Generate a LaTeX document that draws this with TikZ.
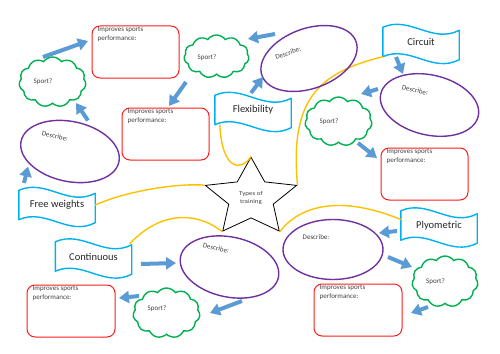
\documentclass[tikz,border=0pt]{standalone}
\usepackage{fontspec}
\setmainfont{Carlito}
\usetikzlibrary{arrows.meta,calc,shapes.geometric,shapes.symbols}

\definecolor{flagblue}{HTML}{00B0F0}
\definecolor{ovalpurple}{HTML}{7030A0}
\definecolor{puffgreen}{HTML}{00B050}
\definecolor{boxred}{HTML}{FF1A1A}
\definecolor{arrowblue}{HTML}{5B9BD5}
\definecolor{linkyellow}{HTML}{FFC000}
\definecolor{inkgrey}{HTML}{404040}

\newcommand{\smallfont}{\fontsize{7}{9}\selectfont}
% wavy outline round a banner node
\newcommand{\waveflag}[1]{%
  \draw[flagline] (#1.north west) .. controls +(27,-12) and +(-27,14) .. ([yshift=-3pt]#1.north east)
    -- ([yshift=-3pt]#1.south east) .. controls +(-27,14) and +(27,-12) .. (#1.south west) -- cycle;}

\tikzset{
  flagtext/.style={minimum width=76pt, minimum height=29pt, inner sep=0pt,
    font=\fontsize{10.5}{12}\selectfont, text=black!85},
  flagline/.style={draw=flagblue, line width=1.4pt, line join=round},
  oval/.style={ellipse, draw=ovalpurple, line width=1.4pt, minimum width=100pt,
    minimum height=60pt, inner sep=0pt},
  ovaltext/.style={font=\smallfont, text=inkgrey, inner sep=0pt},
  sportcloud/.style={cloud, cloud puffs=11, cloud puff arc=110, cloud ignores aspect,
    draw=puffgreen, line width=1.4pt, minimum width=67pt, minimum height=50pt, inner sep=0pt,
    label={[font=\smallfont, text=inkgrey, xshift=-9.5pt, yshift=#1]center:Sport?}},
  sportcloud/.default=0pt,
  perfbox/.style={draw=boxred, line width=1pt, rounded corners=8pt, minimum width=87pt,
    minimum height=52pt, inner sep=0pt,
    label={[anchor=north west, align=left, font=\smallfont, text=inkgrey, inner sep=0pt,
      xshift=6pt, yshift=-1.5pt]north west:{Improves sports\\performance:}}},
  link/.style={draw=linkyellow, line width=1.4pt},
  flow/.style={draw=arrowblue, line width=4pt, -{Triangle[length=10pt,width=12pt]}},
}

\begin{document}
\begin{tikzpicture}[x=1pt,y=-1pt]
  \useasboundingbox (0,0) rectangle (500,353);

  % centre star
  \node[draw, star, star points=5, star point ratio=2.05, minimum size=96pt, inner sep=0pt,
    line width=0.8pt, yscale=0.85, transform shape, align=center, font=\smallfont,
    text=inkgrey] (types) at (251,198) {Types of\\training};

  % banners
  \node[flagtext] (flex) at (253,110) {Flexibility};
  \node[flagtext] (circuit) at (421,42) {Circuit};
  \node[flagtext] (freew) at (57,205) {Free weights};
  \node[flagtext] (cont) at (93.5,256.5) {Continuous};
  \node[flagtext] (plyo) at (439,225.5) {Plyometric};
  \waveflag{flex}
  \waveflag{circuit}
  \waveflag{freew}
  \waveflag{cont}
  \waveflag{plyo}

  % star to banners
  \draw[link] (types.outer point 1) .. controls +(-10,16) and +(2,45) .. ([xshift=5pt]flex.south west);
  \draw[link] (types.outer point 5) .. controls +(-8,-85) and +(-65,16) .. (circuit.south west);
  \draw[link] (types.outer point 2) .. controls +(-25,-2) and +(34,-15) .. (freew.east);
  \draw[link] (types.outer point 3) .. controls +(-27,-21) and +(30,-32) .. ([xshift=-2pt,yshift=-2pt]cont.north east);
  \draw[link] (types.outer point 4) .. controls +(20,-26) and +(-61,-25) .. ([yshift=6pt]plyo.west);

  % describe ovals
  \node[oval, rotate=-12] (e1) at (70,151.5) {};
  \node[oval, rotate=20] (e2) at (309,58.5) {};
  \node[oval, rotate=-13] (e3) at (429.5,105) {};
  \node[oval, rotate=-12] (e4) at (229.5,267) {};
  \node[oval] (e5) at (333,249.5) {};
  \node[ovaltext, rotate=-12] (e1text) at (55,136) {Describe:};
  \node[ovaltext, rotate=20] (e2text) at (288,53) {Describe:};
  \node[ovaltext, rotate=-13] (e3text) at (415,90) {Describe:};
  \node[ovaltext, rotate=-12] (e4text) at (216,248) {Describe:};
  \node[ovaltext] (e5text) at (316,237) {Describe:};

  % sport clouds
  \node[sportcloud] (cloud1) at (52.5,82) {};
  \node[sportcloud=-1.5pt, minimum width=65pt, minimum height=43pt] (cloud2) at (216.5,56.5) {};
  \node[sportcloud, minimum height=49pt] (cloud3) at (338.5,121.5) {};
  \node[sportcloud=4pt] (cloud4) at (166.5,313) {};
  \node[sportcloud, minimum width=66pt, minimum height=51pt] (cloud5) at (445,281.5) {};

  % performance boxes
  \node[perfbox] (red1) at (135.5,52) {};
  \node[perfbox] (red2) at (165.5,134) {};
  \node[perfbox] (red3) at (424.5,174) {};
  \node[perfbox, minimum width=88pt] (red4) at (71,311) {};
  \node[perfbox, minimum width=88pt] (red5) at (358,310) {};

  % blue arrows
  \draw[flow] ($(cloud1)+(-9.5,-25)$) -- ($(red1)+(-47.5,-11)$);
  \draw[flow] ($(e1)+(18,-31)$) -- ($(cloud1)+(23.5,21)$);
  \draw[flow] ($(freew)+(-33,-22)$) -- ($(e1)+(-42,15)$);
  \draw[flow] ($(cloud2)+(-30.5,25.5)$) -- ($(red2)+(3.5,-28)$);
  \draw[flow] ($(e2)+(-34,-24.5)$) -- ($(cloud2)+(31.5,-17.5)$);
  \draw[flow] ($(flex)+(-2,-17)$) -- ($(e2)+(-46,18.5)$);
  \draw[flow] ($(circuit)+(-25,15)$) -- ($(e3)+(-26.5,-31)$);
  \draw[flow] ($(e3)+(-51.5,-16)$) -- ($(cloud3)+(22.5,-27.5)$);
  \draw[flow] ($(cloud3)+(19.5,21.5)$) -- ($(red3)+(-47.5,-16)$);
  \draw[flow] ($(cont)+(47.5,7.5)$) -- ($(e4)+(-53.5,-4)$);
  \draw[flow] ($(e4)+(12.5,34)$) -- ($(cloud4)+(43.5,0)$);
  \draw[flow] ($(cloud4)+(-27.5,-17)$) -- ($(red4)+(48,-13)$);
  \draw[flow] ($(plyo)+(-42,5.5)$) -- ($(e5)+(46,-16.5)$);
  \draw[flow] ($(e5)+(55,7.5)$) -- ($(cloud5)+(-33,-14.5)$);
  \draw[flow] ($(cloud5)+(-17,25.5)$) -- ($(red5)+(53,3)$);
\end{tikzpicture}
\end{document}
